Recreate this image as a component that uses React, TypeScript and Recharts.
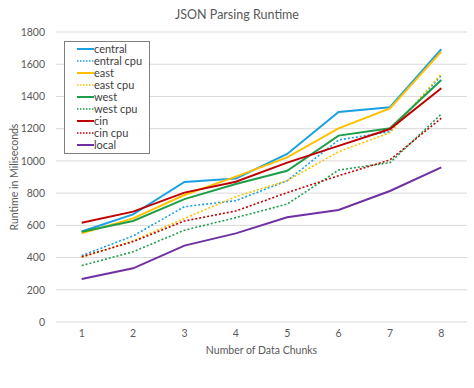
import { LineChart, Line, XAxis, YAxis, CartesianGrid } from 'recharts';

// Number of data chunks on the x axis
const chunks = [1, 2, 3, 4, 5, 6, 7, 8];

// Runtime in ms
const central = [562, 668, 869, 890, 1043, 1304, 1333, 1693];
const centralCpu = [412, 534, 716, 753, 877, 1130, 1181, 1530];
const east = [550, 643, 788, 902, 1022, 1202, 1326, 1678];
const eastCpu = [400, 505, 643, 778, 877, 1057, 1175, 1540];
const west = [560, 627, 763, 857, 939, 1157, 1202, 1502];
const westCpu = [350, 436, 570, 648, 732, 943, 989, 1290];
const cin = [616, 685, 803, 871, 989, 1093, 1198, 1451];
const cinCpu = [405, 499, 627, 689, 803, 908, 1006, 1265];
const local = [267, 333, 474, 550, 650, 695, 813, 960];

const yTicks = [0, 200, 400, 600, 800, 1000, 1200, 1400, 1600, 1800];

const series = [
  { key: 'central', name: 'central', values: central, color: '#1ba1e2', dotted: false },
  { key: 'centralCpu', name: 'entral cpu', values: centralCpu, color: '#1ba1e2', dotted: true },
  { key: 'east', name: 'east', values: east, color: '#ffc000', dotted: false },
  { key: 'eastCpu', name: 'east cpu', values: eastCpu, color: '#ffc000', dotted: true },
  { key: 'west', name: 'west', values: west, color: '#1e9e4a', dotted: false },
  { key: 'westCpu', name: 'west cpu', values: westCpu, color: '#1e9e4a', dotted: true },
  { key: 'cin', name: 'cin', values: cin, color: '#c00000', dotted: false },
  { key: 'cinCpu', name: 'cin cpu', values: cinCpu, color: '#c00000', dotted: true },
  { key: 'local', name: 'local', values: local, color: '#7030a0', dotted: false },
];

const data = chunks.map((c, i) => {
  const row: Record<string, number> = { chunk: c };
  series.forEach(s => { row[s.key] = s.values[i]; });
  return row;
});

const font = 'Lato, "Open Sans", sans-serif';

// legend box drawn by hand so the dotted samples show
const LegendBox = () => (
  <div
    style={{
      position: 'absolute',
      left: 64,
      top: 41,
      width: 84,
      border: '1px solid #7f7f7f',
      background: '#fff',
      padding: '1px 0 2px 0',
      fontFamily: font,
      fontSize: 11,
      color: '#404040',
      lineHeight: '12px',
    }}
  >
    {series.map(s => (
      <div key={s.key} style={{ display: 'flex', alignItems: 'center', paddingLeft: 12, height: 12 }}>
        <svg width={17} height={12} style={{ flex: 'none' }}>
          <line
            x1={0}
            y1={6}
            x2={17}
            y2={6}
            stroke={s.color}
            strokeWidth={s.dotted ? 1.5 : 2}
            strokeDasharray={s.dotted ? '1.5 1.5' : undefined}
          />
        </svg>
        <span>{s.name}</span>
      </div>
    ))}
  </div>
);

export default function App() {
  return (
    <div style={{ position: 'absolute', left: 0, top: 0, width: 474, height: 388, background: '#fff' }}>
      <div
        style={{
          position: 'absolute',
          top: 7,
          left: 0,
          width: 474,
          textAlign: 'center',
          fontFamily: font,
          fontSize: 12.5,
          color: '#595959',
        }}
      >
        JSON Parsing Runtime
      </div>
      <LineChart width={474} height={388} data={data} margin={{ top: 32, right: 7, left: 0, bottom: 30 }}>
        <CartesianGrid vertical={false} stroke="#d9d9d9" strokeWidth={1} />
        <XAxis
          dataKey="chunk"
          padding={{ left: 25.7, right: 25.7 }}
          axisLine={false}
          tickLine={false}
          tickMargin={2}
          height={36}
          tick={{ fill: '#595959', fontSize: 10.5, fontFamily: font }}
          label={{ value: 'Number of Data Chunks', position: 'insideBottom', offset: 4, fill: '#595959', fontSize: 10.5, fontFamily: font }}
        />
        <YAxis
          domain={[0, 1800]}
          ticks={yTicks}
          width={56}
          axisLine={false}
          tickLine={false}
          tickMargin={5}
          tick={{ fill: '#595959', fontSize: 10.5, fontFamily: font }}
          label={{ value: 'Runtime in Miliseconds', angle: -90, position: 'insideLeft', offset: 14, fill: '#595959', fontSize: 10.5, fontFamily: font, style: { textAnchor: 'middle' } }}
        />
        {series.map(s => (
          <Line
            key={s.key}
            dataKey={s.key}
            name={s.name}
            stroke={s.color}
            strokeWidth={s.dotted ? 1.6 : 2}
            strokeDasharray={s.dotted ? '2 2' : undefined}
            dot={false}
            activeDot={false}
            isAnimationActive={false}
          />
        ))}
      </LineChart>
      <LegendBox />
    </div>
  );
}
